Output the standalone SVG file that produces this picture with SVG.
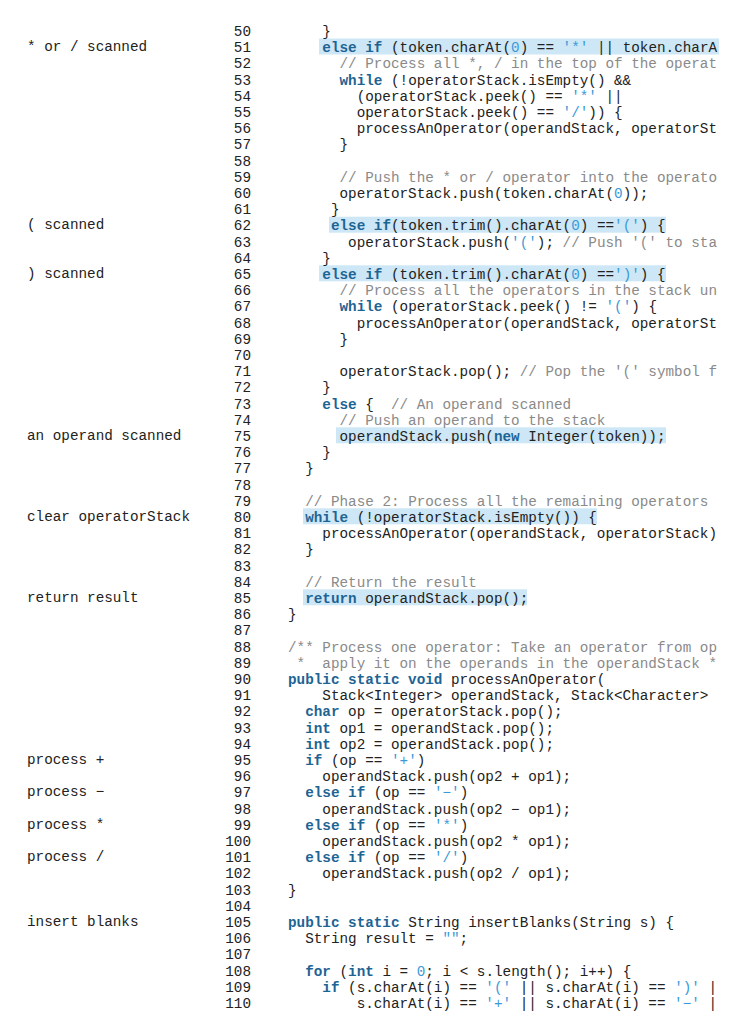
<svg xmlns="http://www.w3.org/2000/svg" width="742" height="1024" viewBox="0 0 742 1024">
<style>
text{font-family:"Liberation Mono",monospace;font-size:14.3px;fill:#222;white-space:pre}
.n{text-anchor:end}
.k{font-weight:bold;fill:#1d6494}
.s{fill:#3a9ad9}
.c{fill:#8a8a8a}
.h{fill:#cde7f6}
</style>
<rect width="742" height="1024" fill="#fff"/>
<g id="highlights">
<rect class="h" x="319" y="38.5" width="400" height="16"/>
<rect class="h" x="329" y="216.7" width="337" height="16"/>
<rect class="h" x="319" y="265.3" width="347" height="16"/>
<rect class="h" x="336" y="427.3" width="330" height="16"/>
<rect class="h" x="303" y="508.3" width="294" height="16"/>
<rect class="h" x="303" y="589.3" width="224" height="16"/>
</g>
<g id="annotations">
<text x="27" y="51">* or / scanned</text>
<text x="27" y="229.2">( scanned</text>
<text x="27" y="277.8">) scanned</text>
<text x="27" y="439.8">an operand scanned</text>
<text x="27" y="520.8">clear operatorStack</text>
<text x="27" y="601.8">return result</text>
<text x="27" y="764">process +</text>
<text x="27" y="796.4">process −</text>
<text x="27" y="828.8">process *</text>
<text x="27" y="861.2">process /</text>
<text x="27" y="925.8">insert blanks</text>
</g>
<g id="linenumbers">
<text class="n" x="251" y="36">50</text><text class="n" x="251" y="52.2">51</text><text class="n" x="251" y="68.4">52</text><text class="n" x="251" y="84.6">53</text><text class="n" x="251" y="100.8">54</text><text class="n" x="251" y="117">55</text><text class="n" x="251" y="133.2">56</text><text class="n" x="251" y="149.4">57</text><text class="n" x="251" y="165.6">58</text><text class="n" x="251" y="181.8">59</text>
<text class="n" x="251" y="198">60</text><text class="n" x="251" y="214.2">61</text><text class="n" x="251" y="230.4">62</text><text class="n" x="251" y="246.6">63</text><text class="n" x="251" y="262.8">64</text><text class="n" x="251" y="279">65</text><text class="n" x="251" y="295.2">66</text><text class="n" x="251" y="311.4">67</text><text class="n" x="251" y="327.6">68</text><text class="n" x="251" y="343.8">69</text>
<text class="n" x="251" y="360">70</text><text class="n" x="251" y="376.2">71</text><text class="n" x="251" y="392.4">72</text><text class="n" x="251" y="408.6">73</text><text class="n" x="251" y="424.8">74</text><text class="n" x="251" y="441">75</text><text class="n" x="251" y="457.2">76</text><text class="n" x="251" y="473.4">77</text><text class="n" x="251" y="489.6">78</text><text class="n" x="251" y="505.8">79</text>
<text class="n" x="251" y="522">80</text><text class="n" x="251" y="538.2">81</text><text class="n" x="251" y="554.4">82</text><text class="n" x="251" y="570.6">83</text><text class="n" x="251" y="586.8">84</text><text class="n" x="251" y="603">85</text><text class="n" x="251" y="619.2">86</text><text class="n" x="251" y="635.4">87</text><text class="n" x="251" y="651.6">88</text><text class="n" x="251" y="667.8">89</text>
<text class="n" x="251" y="684">90</text><text class="n" x="251" y="700.2">91</text><text class="n" x="251" y="716.4">92</text><text class="n" x="251" y="732.6">93</text><text class="n" x="251" y="748.8">94</text><text class="n" x="251" y="765">95</text><text class="n" x="251" y="781.2">96</text><text class="n" x="251" y="797.4">97</text><text class="n" x="251" y="813.6">98</text><text class="n" x="251" y="829.8">99</text>
<text class="n" x="251" y="846">100</text><text class="n" x="251" y="862.2">101</text><text class="n" x="251" y="878.4">102</text><text class="n" x="251" y="894.6">103</text><text class="n" x="251" y="910.8">104</text><text class="n" x="251" y="927">105</text><text class="n" x="251" y="943.2">106</text><text class="n" x="251" y="959.4">107</text><text class="n" x="251" y="975.6">108</text><text class="n" x="251" y="991.8">109</text><text class="n" x="251" y="1008">110</text>
</g>
<g id="code">
<text x="288" y="36">    }</text>
<text x="288" y="52.2">    <tspan class="k">else if</tspan> (token.charAt(<tspan class="s">0</tspan>) == <tspan class="s">'*'</tspan> || token.charA</text>
<text x="288" y="68.4">      <tspan class="c">// Process all *, / in the top of the operat</tspan></text>
<text x="288" y="84.6">      <tspan class="k">while</tspan> (!operatorStack.isEmpty() &amp;&amp;</text>
<text x="288" y="100.8">        (operatorStack.peek() == <tspan class="s">'*'</tspan> ||</text>
<text x="288" y="117">        operatorStack.peek() == <tspan class="s">'/'</tspan>)) {</text>
<text x="288" y="133.2">        processAnOperator(operandStack, operatorSt</text>
<text x="288" y="149.4">      }</text>
<text x="288" y="181.8">      <tspan class="c">// Push the * or / operator into the operato</tspan></text>
<text x="288" y="198">      operatorStack.push(token.charAt(<tspan class="s">0</tspan>));</text>
<text x="288" y="214.2">     }</text>
<text x="288" y="230.4">     <tspan class="k">else if</tspan>(token.trim().charAt(<tspan class="s">0</tspan>) ==<tspan class="s">'('</tspan>) {</text>
<text x="288" y="246.6">       operatorStack.push(<tspan class="s">'('</tspan>); <tspan class="c">// Push '(' to sta</tspan></text>
<text x="288" y="262.8">    }</text>
<text x="288" y="279">    <tspan class="k">else if</tspan> (token.trim().charAt(<tspan class="s">0</tspan>) ==<tspan class="s">')'</tspan>) {</text>
<text x="288" y="295.2">      <tspan class="c">// Process all the operators in the stack un</tspan></text>
<text x="288" y="311.4">      <tspan class="k">while</tspan> (operatorStack.peek() != <tspan class="s">'('</tspan>) {</text>
<text x="288" y="327.6">        processAnOperator(operandStack, operatorSt</text>
<text x="288" y="343.8">      }</text>
<text x="288" y="376.2">      operatorStack.pop(); <tspan class="c">// Pop the '(' symbol f</tspan></text>
<text x="288" y="392.4">    }</text>
<text x="288" y="408.6">    <tspan class="k">else</tspan> {  <tspan class="c">// An operand scanned</tspan></text>
<text x="288" y="424.8">      <tspan class="c">// Push an operand to the stack</tspan></text>
<text x="288" y="441">      operandStack.push(<tspan class="k">new</tspan> Integer(token));</text>
<text x="288" y="457.2">    }</text>
<text x="288" y="473.4">  }</text>
<text x="288" y="505.8">  <tspan class="c">// Phase 2: Process all the remaining operators</tspan></text>
<text x="288" y="522">  <tspan class="k">while</tspan> (!operatorStack.isEmpty()) {</text>
<text x="288" y="538.2">    processAnOperator(operandStack, operatorStack)</text>
<text x="288" y="554.4">  }</text>
<text x="288" y="586.8">  <tspan class="c">// Return the result</tspan></text>
<text x="288" y="603">  <tspan class="k">return</tspan> operandStack.pop();</text>
<text x="288" y="619.2">}</text>
<text x="288" y="651.6"><tspan class="c">/** Process one operator: Take an operator from op</tspan></text>
<text x="288" y="667.8"><tspan class="c"> *  apply it on the operands in the operandStack *</tspan></text>
<text x="288" y="684"><tspan class="k">public static void</tspan> processAnOperator(</text>
<text x="288" y="700.2">    Stack&lt;Integer&gt; operandStack, Stack&lt;Character&gt;</text>
<text x="288" y="716.4">  <tspan class="k">char</tspan> op = operatorStack.pop();</text>
<text x="288" y="732.6">  <tspan class="k">int</tspan> op1 = operandStack.pop();</text>
<text x="288" y="748.8">  <tspan class="k">int</tspan> op2 = operandStack.pop();</text>
<text x="288" y="765">  <tspan class="k">if</tspan> (op == <tspan class="s">'+'</tspan>)</text>
<text x="288" y="781.2">    operandStack.push(op2 + op1);</text>
<text x="288" y="797.4">  <tspan class="k">else if</tspan> (op == <tspan class="s">'−'</tspan>)</text>
<text x="288" y="813.6">    operandStack.push(op2 − op1);</text>
<text x="288" y="829.8">  <tspan class="k">else if</tspan> (op == <tspan class="s">'*'</tspan>)</text>
<text x="288" y="846">    operandStack.push(op2 * op1);</text>
<text x="288" y="862.2">  <tspan class="k">else if</tspan> (op == <tspan class="s">'/'</tspan>)</text>
<text x="288" y="878.4">    operandStack.push(op2 / op1);</text>
<text x="288" y="894.6">}</text>
<text x="288" y="927"><tspan class="k">public static</tspan> String insertBlanks(String s) {</text>
<text x="288" y="943.2">  String result = <tspan class="s">""</tspan>;</text>
<text x="288" y="975.6">  <tspan class="k">for</tspan> (<tspan class="k">int</tspan> i = <tspan class="s">0</tspan>; i &lt; s.length(); i++) {</text>
<text x="288" y="991.8">    <tspan class="k">if</tspan> (s.charAt(i) == <tspan class="s">'('</tspan> || s.charAt(i) == <tspan class="s">')'</tspan> |</text>
<text x="288" y="1008">        s.charAt(i) == <tspan class="s">'+'</tspan> || s.charAt(i) == <tspan class="s">'−'</tspan> |</text>
</g>
</svg>
